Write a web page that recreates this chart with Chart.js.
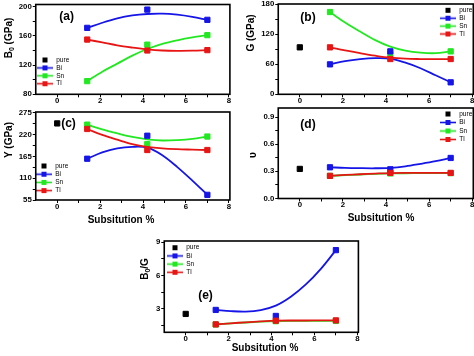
<!DOCTYPE html>
<html>
<head>
<meta charset="utf-8">
<script src="https://cdn.jsdelivr.net/npm/chart.js@4.4.1/dist/chart.umd.min.js"></script>
<style>
html,body{margin:0;padding:0;background:#fff;width:474px;height:356px;overflow:hidden;position:relative;font-family:"Liberation Sans",Arial,Helvetica,sans-serif;}
canvas{position:absolute;z-index:1;}
.t{position:absolute;z-index:2;transform:translate(-50%,-50%);white-space:nowrap;font-weight:bold;color:#000;line-height:1;}
.pl{font-size:12px;}
.ax{font-size:10px;}
.rot{transform:translate(-50%,-50%) rotate(-90deg);}
sub{font-size:7px;vertical-align:-2px;line-height:0;}
</style>
</head>
<body>
<div class="t pl" style="left:66.7px;top:16px">(a)</div>
<div class="t pl" style="left:308px;top:16.7px">(b)</div>
<div class="t pl" style="left:68.5px;top:123px">(c)</div>
<div class="t pl" style="left:308px;top:124px">(d)</div>
<div class="t pl" style="left:205.5px;top:294.5px">(e)</div>
<div class="t ax rot" style="left:8.5px;top:38px">B<sub>0</sub> (GPa)</div>
<div class="t ax rot" style="left:251px;top:33px">G (GPa)</div>
<div class="t ax rot" style="left:8.5px;top:140px">Y (GPa)</div>
<div class="t ax rot" style="left:253px;top:155px">υ</div>
<div class="t ax rot" style="left:145px;top:269px">B<sub>0</sub>/G</div>
<div class="t ax" style="left:121px;top:219.5px">Subsitution %</div>
<div class="t ax" style="left:381px;top:217.5px">Subsitution %</div>
<div class="t ax" style="left:265px;top:347.5px">Subsitution %</div>
<script>
// ---------------- data ----------------
const seriesNames = ['pure', 'Bi', 'Sn', 'Tl'];
const seriesColors = ['#000000', '#1515e8', '#22e822', '#e81515'];
const xPure = [0];
const xDoped = [1.4, 4.2, 7.0];
const xFit = [1.4, 2.1, 2.8, 3.5, 4.2, 4.9, 5.6, 6.3, 7.0];
const xTicks = [0, 2, 4, 6, 8];

// (a) B0 (GPa)
const b0Pure = [];
const b0Bi = [171, 196, 182];
const b0Sn = [98, 148, 161];
const b0Tl = [155, 140, 140.5];
const b0BiFit = [171, 178, 184, 188, 190, 190.5, 189, 186, 182];
const b0SnFit = [98, 111, 122, 133, 142, 149, 154, 158, 161];
const b0TlFit = [155, 151, 147, 144, 141.5, 140, 139.5, 139.7, 140.5];
const b0Ticks = [80, 120, 160, 200];

// (b) G (GPa)
const gPure = [93.6];
const gBi = [59.7, 85.6, 23.9];
const gSn = [164, 80, 85.6];
const gTl = [93.6, 70.3, 70.3];
const gBiFit = [59.7, 66, 70, 72, 71, 63, 52, 38, 23.9];
const gSnFit = [164, 143, 125, 108, 95, 87, 83, 82, 85.6];
const gTlFit = [93.6, 87.5, 82, 77, 73, 71, 70.3, 70, 70.3];
const gTicks = [0, 60, 120, 180];

// (c) Y (GPa)
const yPure = [248];
const yBi = [159, 217, 68];
const ySn = [245, 196, 215];
const yTl = [234, 181, 181];
const yBiFit = [159, 175, 185, 189, 187, 168, 138, 104, 68];
const ySnFit = [245, 233, 223, 214, 208, 205, 206, 209, 215];
const yTlFit = [234, 219, 207, 196, 189, 185, 183, 182, 181];
const yTicks = [55, 110, 165, 220, 275];

// (d) Poisson ratio
const nuPure = [0.327];
const nuBi = [0.345, 0.323, 0.448];
const nuSn = [0.25, 0.277, 0.28];
const nuTl = [0.25, 0.283, 0.283];
const nuBiFit = [0.345, 0.338, 0.335, 0.334, 0.338, 0.355, 0.382, 0.412, 0.448];
const nuSnFit = [0.25, 0.258, 0.265, 0.272, 0.277, 0.279, 0.28, 0.28, 0.28];
const nuTlFit = [0.25, 0.26, 0.268, 0.275, 0.281, 0.283, 0.283, 0.283, 0.283];
const nuTicks = [0, 0.3, 0.6, 0.9];

// (e) B0/G
const bgPure = [2.55];
const bgBi = [2.91, 2.37, 8.28];
const bgSn = [1.6, 1.9, 1.92];
const bgTl = [1.61, 1.94, 1.97];
const bgBiFit = [2.91, 2.8, 2.76, 2.9, 3.3, 4.1, 5.2, 6.6, 8.28];
const bgSnFit = [1.6, 1.7, 1.78, 1.85, 1.9, 1.92, 1.92, 1.92, 1.92];
const bgTlFit = [1.61, 1.71, 1.8, 1.88, 1.94, 1.96, 1.96, 1.97, 1.97];
const bgTicks = [3, 6, 9];

// ---------------- layout / style ----------------
const FONT = '"Liberation Sans", Arial, Helvetica, sans-serif';
const X_RANGE = [-1, 8.05];

const panels = [
  {plot: [35.75, 4.5, 229.9, 94.3], yRange: [80, 203], yMajor: b0Ticks, dec: 0,
   legendAt: [37, 60], legendPad: 1.4,
   values: [b0Pure, b0Bi, b0Sn, b0Tl], fits: [b0BiFit, b0SnFit, b0TlFit]},
  {plot: [278.25, 4, 473.3, 94.3], yRange: [0, 180], yMajor: gTicks, dec: 0,
   legendAt: [440, 10.3], legendPad: 1.4,
   values: [gPure, gBi, gSn, gTl], fits: [gBiFit, gSnFit, gTlFit]},
  {plot: [35.75, 112, 229.9, 200], yRange: [55, 276.8], yMajor: yTicks, dec: 0,
   legendAt: [36, 166], legendPad: 1.7,
   values: [yPure, yBi, ySn, yTl], fits: [yBiFit, ySnFit, yTlFit]},
  {plot: [278.25, 108, 473.3, 198.5], yRange: [0, 1.0], yMajor: nuTicks, dec: 1,
   legendAt: [440, 114], legendPad: 2,
   values: [nuPure, nuBi, nuSn, nuTl], fits: [nuBiFit, nuSnFit, nuTlFit]},
  {plot: [164.25, 241, 358.4, 332.3], yRange: [0.9, 9.1], yMajor: bgTicks, dec: 0,
   legendAt: [167, 247.7], legendPad: 1.7,
   values: [bgPure, bgBi, bgSn, bgTl], fits: [bgBiFit, bgSnFit, bgTlFit]}
];

function zip(xs, ys) { return ys.map((y, i) => ({x: xs[i], y: y})); }

function makeIcon(color, withLine) {
  const c = document.createElement('canvas');
  c.width = 16; c.height = 7;
  const g = c.getContext('2d');
  if (withLine) {
    g.strokeStyle = color; g.lineWidth = 1.6;
    g.beginPath(); g.moveTo(0, 3.5); g.lineTo(16, 3.5); g.stroke();
  }
  g.fillStyle = color;
  g.fillRect(5.5, 1, 5, 5);
  return c;
}
const icons = seriesNames.map((n, i) => makeIcon(seriesColors[i], i > 0));

function withMinors(major, lo, hi) {
  const out = [];
  const step = major[1] - major[0];
  for (let i = 0; i < major.length; i++) {
    out.push({v: major[i], major: true});
    const before = major[i] - step / 2;
    if (i === 0 && before > lo + 1e-9) out.push({v: before, major: false});
    const after = major[i] + step / 2;
    if (after < hi - 1e-9) out.push({v: after, major: false});
  }
  return out.sort((a, b) => a.v - b.v);
}

const framePlugin = {
  id: 'frame',
  afterDraw(chart) {
    const {ctx, chartArea: a} = chart;
    ctx.save();
    ctx.strokeStyle = '#000';
    ctx.lineWidth = 1.6;
    ctx.strokeRect(a.left, a.top, a.right - a.left, a.bottom - a.top);
    ctx.restore();
  }
};

const legendPlace = {
  id: 'legendPlace',
  beforeDraw(chart, args, o) {
    const lg = chart.legend;
    if (!lg) return;
    lg.left = o.x - o.pad;
    lg.top = o.y - o.pad - o.fs / 2;
    lg.right = lg.left + 120;
    lg.bottom = lg.top + 90;
  }
};

const LEG_FS = 6.5;
const orderOf = {1: [3, 4], 2: [5, 6], 3: [1, 2]};

panels.forEach(p => {
  const [l, t, r, b] = p.plot;
  const CL = Math.floor(l - 36), CT = Math.floor(t - 8);
  const YW = l - CL, PT = t - CT;
  const CW = Math.ceil(r + 10 - CL), CH = Math.ceil(b + 18 - CT);
  const PR = CL + CW - r, XH = CT + CH - b;
  const cv = document.createElement('canvas');
  cv.width = CW; cv.height = CH;
  cv.style.left = CL + 'px'; cv.style.top = CT + 'px';
  cv.style.width = CW + 'px'; cv.style.height = CH + 'px';
  document.body.appendChild(cv);

  const datasets = [];
  datasets.push({
    label: seriesNames[0], data: zip(xPure, p.values[0]), showLine: false,
    pointStyle: 'rect', pointRadius: 3.7, pointBorderWidth: 1,
    backgroundColor: seriesColors[0], borderColor: seriesColors[0], order: 0
  });
  for (let i = 1; i <= 3; i++) {
    const col = seriesColors[i];
    datasets.push({
      label: seriesNames[i] + ' fit', data: zip(xFit, p.fits[i - 1]),
      borderColor: col, backgroundColor: col, borderWidth: 1.8,
      pointRadius: 0, tension: 0.35, fill: false, order: orderOf[i][1]
    });
    datasets.push({
      label: seriesNames[i], data: zip(xDoped, p.values[i]), showLine: false,
      pointStyle: 'rect', pointRadius: 3.7, pointBorderWidth: 1,
      backgroundColor: col, borderColor: col, order: orderOf[i][0]
    });
  }

  const yT = withMinors(p.yMajor, p.yRange[0], p.yRange[1]);
  const xT = withMinors(xTicks, X_RANGE[0], X_RANGE[1]);
  const isMajor = (list, v) => list.some(m => Math.abs(m - v) < 1e-6);
  const tickFont = {family: FONT, size: 7.8, weight: 'bold'};

  new Chart(cv, {
    type: 'line',
    data: {datasets},
    options: {
      responsive: false,
      animation: false,
      devicePixelRatio: 1,
      layout: {padding: {left: 0, top: PT, right: PR, bottom: 0}},
      plugins: {
        tooltip: {enabled: false},
        legend: {
          display: true, position: 'chartArea', align: 'start',
          labels: {
            usePointStyle: true, pointStyleWidth: 16, padding: p.legendPad,
            color: '#000', font: {family: FONT, size: LEG_FS},
            generateLabels: () => seriesNames.map((n, i) => ({
              text: n, pointStyle: icons[i], fillStyle: seriesColors[i],
              strokeStyle: seriesColors[i], lineWidth: 0, hidden: false,
              fontColor: '#000', datasetIndex: i
            }))
          }
        },
        legendPlace: {x: p.legendAt[0] - CL, y: p.legendAt[1] - CT, pad: p.legendPad, fs: LEG_FS}
      },
      scales: {
        x: {
          type: 'linear', position: 'bottom', min: X_RANGE[0], max: X_RANGE[1],
          afterBuildTicks: s => { s.ticks = xT.map(o => ({value: o.v})); },
          afterFit: s => { s.height = XH; },
          ticks: {
            autoSkip: false, maxRotation: 0, padding: -1, color: '#000', font: tickFont,
            callback: v => isMajor(xTicks, v) ? String(Math.round(v)) : ''
          },
          grid: {display: true, drawOnChartArea: false, drawTicks: true, tickLength: 3,
                 color: '#000', tickColor: '#000', lineWidth: 1},
          border: {display: false}
        },
        y: {
          type: 'linear', position: 'left', min: p.yRange[0], max: p.yRange[1],
          afterBuildTicks: s => { s.ticks = yT.map(o => ({value: o.v})); },
          afterFit: s => { s.width = YW; },
          ticks: {
            autoSkip: false, padding: 1, color: '#000', font: tickFont,
            callback: v => isMajor(p.yMajor, v) ? Number(v).toFixed(p.dec) : ''
          },
          grid: {display: true, drawOnChartArea: false, drawTicks: true, tickLength: 3,
                 color: '#000', tickColor: '#000', lineWidth: 1},
          border: {display: false}
        }
      }
    },
    plugins: [framePlugin, legendPlace]
  });
});
</script>
</body>
</html>
